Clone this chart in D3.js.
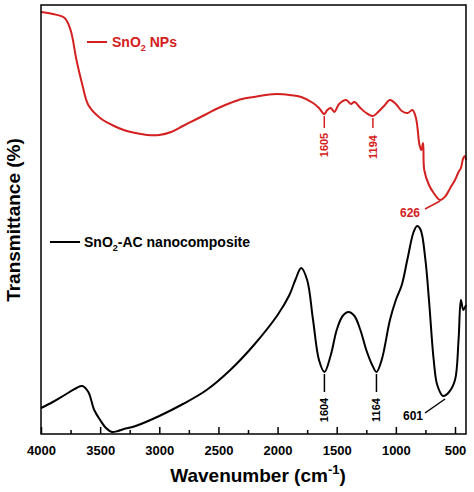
<!DOCTYPE html>
<html><head><meta charset="utf-8">
<script src="https://cdn.jsdelivr.net/npm/d3@7"></script>
<style>body{margin:0;background:#fff}text{font-family:Arial,"Liberation Sans",sans-serif;font-weight:bold}</style>
</head><body><svg id="c" width="474" height="492"></svg>
<script>
// pixel-read spectra, y given as screen px in reference then mapped to % scale
const pxToVal = y => (434 - y) / 429 * 100;
const redWn = [4000,3900,3800,3750,3700,3650,3600,3500,3400,3300,3200,3100,3000,2900,2800,2700,2600,2500,2400,2300,2200,2100,2000,1900,1800,1700,1650,1605,1580,1550,1520,1480,1420,1380,1350,1300,1250,1194,1150,1100,1050,1000,950,900,860,830,800,785,770,760,720,680,626,580,540,500,470,450,430,415,407];
const redPx = [12,14,18,30,60,85,105,118,125,130,133,135,135,132,126,120,114,108,103,99,97,95,94,95,97,103,108,114,110,108,112,104,100,104,102,108,113,116,112,106,100,104,111,113,110,118,145,150,143,170,185,193,200,196,188,180,172,168,158,156,160];
const blkWn = [4000,3900,3800,3700,3650,3600,3550,3500,3450,3400,3350,3300,3200,3000,2800,2600,2400,2200,2000,1900,1850,1800,1750,1700,1650,1604,1550,1500,1450,1400,1350,1300,1250,1200,1164,1120,1050,1000,950,900,850,820,790,750,720,680,650,601,550,500,470,450,430,407];
const blkPx = [408,402,395,388,386,392,410,420,428,432,431,429,426,416,404,390,370,345,315,295,280,268,280,320,360,372,355,330,316,312,316,330,350,365,372,360,320,300,285,258,232,226,230,260,300,360,385,396,392,380,340,300,310,305];
const xTicks = [4000,3500,3000,2500,2000,1500,1000,500];

const svg = d3.select('#c');
const L = 41, R = 466, T = 5, B = 434;
const x = d3.scaleLinear().domain([4000, 407]).range([L, R]);
const y = d3.scaleLinear().domain([0, 100]).range([B, T]);

const line = d3.line().x(d => x(d[0])).y(d => y(d[1])).curve(d3.curveCatmullRom);
const red = redWn.map((w, i) => [w, pxToVal(redPx[i])]);
const blk = blkWn.map((w, i) => [w, pxToVal(blkPx[i])]);

svg.append('path').attr('d', line(red)).attr('fill', 'none').attr('stroke', '#d42020').attr('stroke-width', 2);
svg.append('path').attr('d', line(blk)).attr('fill', 'none').attr('stroke', '#000').attr('stroke-width', 2);

// frame
svg.append('rect').attr('x', L).attr('y', T).attr('width', R - L).attr('height', B - T)
  .attr('fill', 'none').attr('stroke', '#000').attr('stroke-width', 1.5);

// x axis with inward ticks
const ax = svg.append('g').attr('transform', `translate(0,${B})`)
  .call(d3.axisBottom(x).tickValues(xTicks).tickFormat(d3.format('d')).tickSizeInner(-7).tickSizeOuter(0).tickPadding(12));
ax.select('.domain').remove();
ax.selectAll('line').attr('stroke-width', 1.5);
ax.selectAll('text').attr('font-size', 13).attr('fill', '#000');
svg.append('g').attr('transform', `translate(0,${B})`)
  .call(d3.axisBottom(x).tickValues(d3.range(3750, 407, -500)).tickSize(-4).tickFormat(''))
  .call(g => g.select('.domain').remove()).selectAll('line').attr('stroke-width', 1.5);

svg.append('text').attr('x', 258).attr('y', 482).attr('text-anchor', 'middle').attr('font-size', 19)
  .html('Wavenumber (cm<tspan dy="-8" font-size="13">-1</tspan><tspan dy="8">)</tspan>');
svg.append('text').attr('transform', 'translate(20,220) rotate(-90)').attr('text-anchor', 'middle')
  .attr('font-size', 19).text('Transmittance (%)');

// legends
svg.append('line').attr('x1', 87).attr('x2', 107).attr('y1', 42).attr('y2', 42).attr('stroke', '#d42020').attr('stroke-width', 2);
svg.append('text').attr('x', 112).attr('y', 47).attr('font-size', 14).attr('fill', '#d42020')
  .html('SnO<tspan dy="4" font-size="9">2</tspan><tspan dy="-4"> NPs</tspan>');
svg.append('line').attr('x1', 50).attr('x2', 80).attr('y1', 242).attr('y2', 242).attr('stroke', '#000').attr('stroke-width', 2);
svg.append('text').attr('x', 84).attr('y', 247).attr('font-size', 14)
  .html('SnO<tspan dy="4" font-size="9">2</tspan><tspan dy="-4">-AC nanocomposite</tspan>');

// vertical peak markers
function vmark(w, y1, y2, ty, label, col) {
  svg.append('line').attr('x1', x(w)).attr('x2', x(w)).attr('y1', y1).attr('y2', y2).attr('stroke', col).attr('stroke-width', 1.5);
  svg.append('text').attr('transform', `translate(${x(w) + 4},${ty}) rotate(-90)`).attr('text-anchor', 'middle')
    .attr('font-size', 11).attr('fill', col).text(label);
}
vmark(1605, 116, 128, 145, '1605', '#d42020');
vmark(1194, 118, 128, 147, '1194', '#d42020');
vmark(1604, 374, 392, 410, '1604', '#000');
vmark(1164, 374, 392, 410, '1164', '#000');

svg.append('line').attr('x1', 425).attr('y1', 209).attr('x2', x(626)).attr('y2', 201).attr('stroke', '#d42020').attr('stroke-width', 1.5);
svg.append('text').attr('x', 410).attr('y', 217).attr('font-size', 12).attr('fill', '#d42020').attr('text-anchor', 'middle').text('626');
svg.append('line').attr('x1', 425).attr('y1', 413).attr('x2', x(601) + 2).attr('y2', 399).attr('stroke', '#000').attr('stroke-width', 1.5);
svg.append('text').attr('x', 413).attr('y', 420).attr('font-size', 12).attr('text-anchor', 'middle').text('601');
</script></body></html>
